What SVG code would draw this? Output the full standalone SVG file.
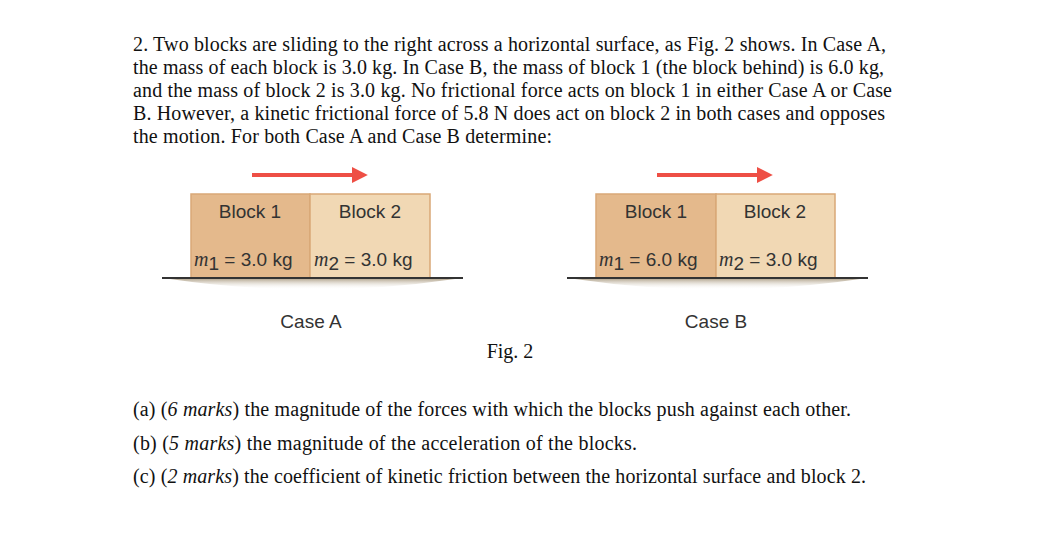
<svg xmlns="http://www.w3.org/2000/svg" width="1043" height="538" viewBox="0 0 1043 538">
<defs>
<style>
.t{font-family:"Liberation Serif",serif;font-size:20px;fill:#111}
.s{font-family:"Liberation Sans",Arial,sans-serif;font-size:19px;fill:#333}
.m{font-family:"Liberation Serif",serif;font-style:italic;font-size:20px;fill:#333}
.b1{fill:#e4b98c;stroke:#d9a877;stroke-width:1.5}
.b2{fill:#f1d8b4;stroke:#d9a877;stroke-width:1.5}
.g{stroke:#333;stroke-width:2}
.arr{stroke:#ee4f45;stroke-width:4;fill:none}
</style>
<linearGradient id="sh" x1="0" y1="0" x2="0" y2="1"><stop offset="0" stop-color="#b8ab95"/><stop offset="1" stop-color="#ffffff" stop-opacity="0"/></linearGradient>
<marker id="ah" viewBox="0 0 10 10" refX="2" refY="5" markerWidth="4" markerHeight="4" orient="auto"><path d="M0,0L10,5L0,10z" fill="#ee4f45"/></marker>
</defs>
<rect width="1043" height="538" fill="#fff"/>
<text class="t" x="133" y="51" textLength="753">2. Two blocks are sliding to the right across a horizontal surface, as Fig. 2 shows. In Case A,</text>
<text class="t" x="133" y="74" textLength="751">the mass of each block is 3.0 kg. In Case B, the mass of block 1 (the block behind) is 6.0 kg,</text>
<text class="t" x="133" y="97" textLength="759">and the mass of block 2 is 3.0 kg. No frictional force acts on block 1 in either Case A or Case</text>
<text class="t" x="133" y="120" textLength="752">B. However, a kinetic frictional force of 5.8 N does act on block 2 in both cases and opposes</text>
<text class="t" x="133" y="143" textLength="419">the motion. For both Case A and Case B determine:</text>
<g id="caseA">
<path d="M170,279 Q312,300 455,279 Z" fill="url(#sh)"/>
<rect class="b1" x="191" y="194" width="119" height="84"/>
<rect class="b2" x="310" y="194" width="120" height="84"/>
<line class="g" x1="162" y1="278" x2="463" y2="278"/>
<text class="s" x="250" y="218" text-anchor="middle">Block 1</text>
<text class="s" x="370" y="218" text-anchor="middle">Block 2</text>
<text x="194" y="266"><tspan class="m">m</tspan><tspan class="s" font-size="14" dy="4">1</tspan><tspan class="s" dy="-4"> = 3.0 kg</tspan></text>
<text x="314" y="266"><tspan class="m">m</tspan><tspan class="s" font-size="14" dy="4">2</tspan><tspan class="s" dy="-4"> = 3.0 kg</tspan></text>
<text class="s" x="311" y="328" text-anchor="middle">Case A</text>
</g>
<g id="caseB">
<path d="M575,279 Q717,300 860,279 Z" fill="url(#sh)"/>
<rect class="b1" x="596" y="194" width="120" height="84"/>
<rect class="b2" x="716" y="194" width="119" height="84"/>
<line class="g" x1="567" y1="278" x2="868" y2="278"/>
<text class="s" x="656" y="218" text-anchor="middle">Block 1</text>
<text class="s" x="775" y="218" text-anchor="middle">Block 2</text>
<text x="599" y="266"><tspan class="m">m</tspan><tspan class="s" font-size="14" dy="4">1</tspan><tspan class="s" dy="-4"> = 6.0 kg</tspan></text>
<text x="719" y="266"><tspan class="m">m</tspan><tspan class="s" font-size="14" dy="4">2</tspan><tspan class="s" dy="-4"> = 3.0 kg</tspan></text>
<text class="s" x="716" y="328" text-anchor="middle">Case B</text>
</g>
<g id="connectors">
<line class="arr" x1="252" y1="175" x2="355" y2="175" marker-end="url(#ah)"/>
<line class="arr" x1="657" y1="175" x2="760" y2="175" marker-end="url(#ah)"/>
</g>
<text class="t" x="510" y="358" text-anchor="middle">Fig. 2</text>
<text class="t" x="133" y="416" textLength="718">(a) (<tspan font-style="italic">6 marks</tspan>) the magnitude of the forces with which the blocks push against each other.</text>
<text class="t" x="133" y="450" textLength="504">(b) (<tspan font-style="italic">5 marks</tspan>) the magnitude of the acceleration of the blocks.</text>
<text class="t" x="133" y="483" textLength="733">(c) (<tspan font-style="italic">2 marks</tspan>) the coefficient of kinetic friction between the horizontal surface and block 2.</text>
</svg>
